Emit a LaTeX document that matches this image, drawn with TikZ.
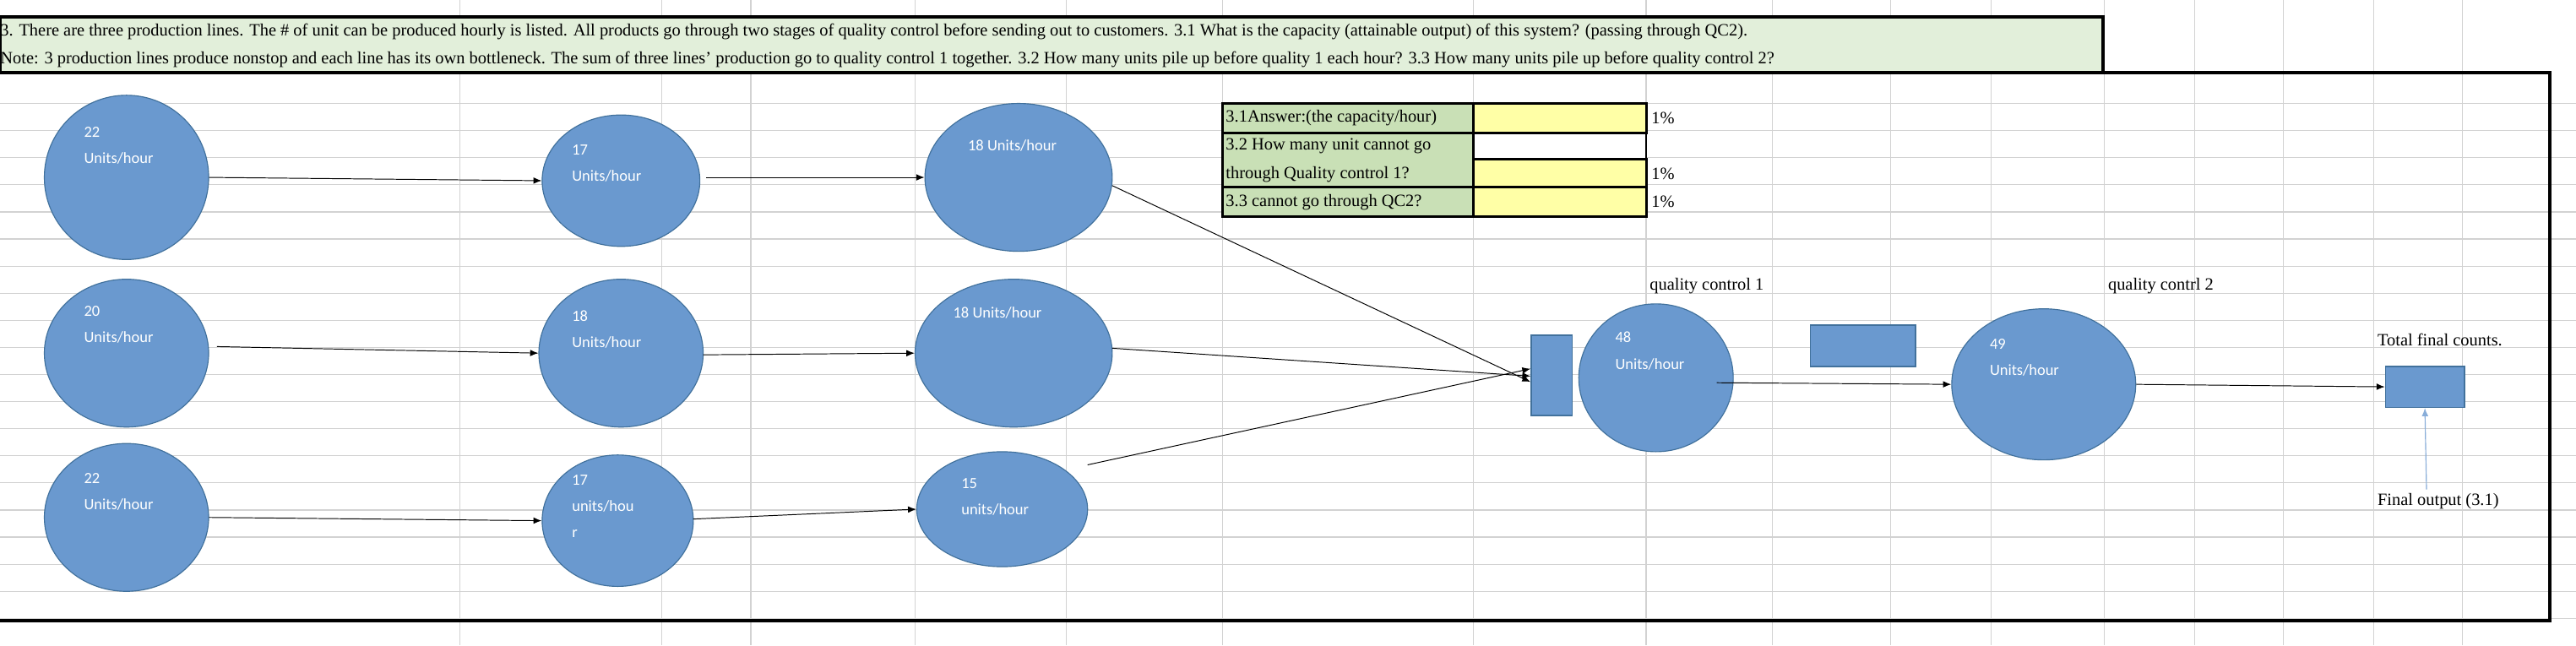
\documentclass[tikz,border=0pt]{standalone}
\usepackage{fontspec}
\setmainfont{Liberation Serif}
\newfontfamily\calib{Carlito}
\usetikzlibrary{shapes.geometric,arrows.meta}
\definecolor{blu}{HTML}{6A99CF}
\definecolor{bluedge}{HTML}{41719C}
\definecolor{hdr}{HTML}{E2EFDA}
\definecolor{tgreen}{HTML}{C9E0B6}
\definecolor{tyel}{HTML}{FFFFA6}
\tikzset{
 ell/.style={ellipse,fill=blu,draw=bluedge,line width=0.6pt,inner sep=0pt},
 rbox/.style={rectangle,fill=blu,draw=bluedge,line width=0.8pt,inner sep=0pt},
 etxt/.style={anchor=north west,font=\calib\fontsize{9.5}{16}\selectfont,text=white,align=left,inner sep=0pt},
 lbl/.style={font=\fontsize{10.5}{12}\selectfont,inner sep=0pt},
 arr/.style={-{Latex[length=5pt,width=4pt]},line width=0.5pt},
 grd/.style={draw=gray!35,line width=0.6pt}
}
\begin{document}
\begin{tikzpicture}[x=1pt,y=-1pt]
\useasboundingbox (0,0) rectangle (1568,393);
\fill[white] (0,0) rectangle (1568,393);
% grid
\foreach \y in {63,79.5,96,112.5,129,145.5,162,178.5,195,211.5,228,244.5,261,277.5,294,310.5,327,343.5,360,376.5}
  \draw[grd] (0,\y) -- (1568,\y);
\foreach \x in {280,403,457,557,649,744,897,1002,1079,1151,1212,1281,1336,1390,1445,1499}
  \draw[grd] (\x,0) -- (\x,393);
% header
\draw[fill=hdr,line width=2pt] (0,10.5) rectangle (1280,44);
\node[lbl,anchor=west] (h1) at (0,19.5) {\scalebox{1.0}[1]{3. There are three production lines. The \# of unit can be produced hourly is listed. All products go through two stages of quality control before sending out to customers. 3.1 What is the capacity (attainable output) of this system? (passing through QC2).}};
\node[lbl,anchor=west] (h2) at (0,36) {\scalebox{1.0}[1]{Note: 3 production lines produce nonstop and each line has its own bottleneck. The sum of three lines' production go to quality control 1 together. 3.2 How many units pile up before quality 1 each hour? 3.3 How many units pile up before quality control 2?}};
% frame
\draw[line width=2pt] (0,44) -- (1552,44) -- (1552,378) -- (0,378);
% table
\draw[fill=tgreen,line width=1.5pt] (744,63) rectangle (897,81);
\draw[fill=tyel,line width=1.5pt] (897,63) rectangle (1002,81);
\draw[fill=tgreen,line width=1.5pt] (744,81) rectangle (897,114);
\draw[fill=white,line width=1pt] (897,81) rectangle (1002,97);
\draw[fill=tyel,line width=1.5pt] (897,97) rectangle (1002,114);
\draw[fill=tgreen,line width=1.5pt] (744,114) rectangle (897,132);
\draw[fill=tyel,line width=1.5pt] (897,114) rectangle (1002,132);
\node[lbl,anchor=west] (t1) at (746,72) {3.1Answer:(the capacity/hour)};
\node[lbl,anchor=west] (t2) at (746,89) {3.2 How many unit cannot go};
\node[lbl,anchor=west] (t3) at (746,106) {through Quality control 1?};
\node[lbl,anchor=west] (t4) at (746,123) {3.3 cannot go through QC2?};
\node[lbl,anchor=west] (p1) at (1005,72) {1\%};
\node[lbl,anchor=west] (p2) at (1005,106) {1\%};
\node[lbl,anchor=west] (p3) at (1005,123) {1\%};
% ellipses
\node[ell,minimum width=100pt,minimum height=100pt] (a1) at (77,108) {};
\node[ell,minimum width=96pt,minimum height=80pt] (b1) at (378,110) {};
\node[ell,minimum width=114pt,minimum height=90pt] (c1) at (620,108) {};
\node[ell,minimum width=100pt,minimum height=90pt] (a2) at (77,215) {};
\node[ell,minimum width=100pt,minimum height=90pt] (b2) at (378,215) {};
\node[ell,minimum width=120pt,minimum height=90pt] (c2) at (617,215) {};
\node[ell,minimum width=100pt,minimum height=90pt] (a3) at (77,315) {};
\node[ell,minimum width=92pt,minimum height=80pt] (b3) at (376,317) {};
\node[ell,minimum width=104pt,minimum height=70pt] (c3) at (610,310) {};
\node[ell,minimum width=94pt,minimum height=90pt] (q1) at (1008,230) {};
\node[ell,minimum width=112pt,minimum height=92pt] (q2) at (1244,234) {};
\node[rbox,minimum width=25pt,minimum height=49pt] (r1) at (944.5,228.5) {};
\node[rbox,minimum width=64pt,minimum height=25pt] (r2) at (1134,210.5) {};
\node[rbox,minimum width=48pt,minimum height=25pt] (r3) at (1476,235.5) {};
% ellipse texts
\node[etxt] (ta1) at (51,77) {22\\Units/hour};
\node[etxt] (tb1) at (348,88) {17\\Units/hour};
\node[etxt] (tc1) at (589,85) {18 Units/hour};
\node[etxt] (ta2) at (51,186) {20\\Units/hour};
\node[etxt] (tb2) at (348,189) {18\\Units/hour};
\node[etxt] (tc2) at (580,187) {18 Units/hour};
\node[etxt] (ta3) at (51,288) {22\\Units/hour};
\node[etxt] (tb3) at (348,289) {17\\units/hou\\r};
\node[etxt] (tc3) at (585,291) {15\\units/hour};
\node[etxt] (tq1) at (983,202) {48\\Units/hour};
\node[etxt] (tq2) at (1211,206) {49\\Units/hour};
% labels
\node[lbl,anchor=west] (l1) at (1004,174) {quality control 1};
\node[lbl,anchor=west] (l2) at (1283,174) {quality contrl 2};
\node[lbl,anchor=west] (l3) at (1447,207) {Total final counts.};
\node[lbl,anchor=west] (l4) at (1447,305) {Final output (3.1)};
% arrows
\coordinate (s1) at (128,108); \coordinate (e1) at (330,108);
\draw[arr] (a1.east) -- (b1.west);
\draw[arr] (132,211) -- (b2.west);
\draw[arr] (a3.east) -- (b3.west);
\draw[arr] (430,108) -- (c1.west);
\draw[arr] (428,216) -- (c2.west);
\draw[arr] (422,316) -- (c3.west);
\draw[arr] (677,113) -- ([yshift=-4pt]r1.west);
\draw[arr] (677,212) -- ([yshift=-0.5pt]r1.west);
\draw[arr] (662,283) -- ([yshift=4pt]r1.west);
\draw[arr] (1045,233) -- (q2.west);
\draw[arr] (q2.east) -- (r3.west);
\draw[-{Latex[length=5pt,width=4pt]},draw=blu!80,fill=blu!80,line width=0.6pt] (1477,298) -- (r3.south);
\end{tikzpicture}
\end{document}
